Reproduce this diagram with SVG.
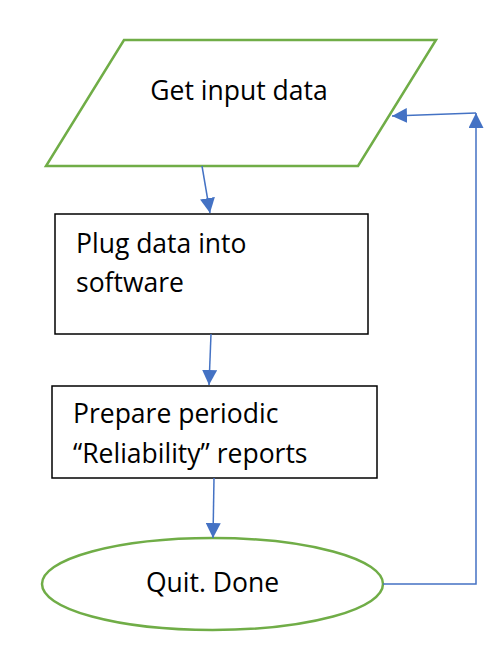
<svg xmlns="http://www.w3.org/2000/svg" width="504" height="660" viewBox="0 0 504 660">
<style>
.green{fill:#ffffff;stroke:#70AD47;stroke-width:2.5}
.box{fill:#ffffff;stroke:#000000;stroke-width:1.5}
.lbl{font-family:"Open Sans","Liberation Sans",sans-serif;font-size:26.5px;fill:#000000}
.con{fill:none;stroke:#4472C4;stroke-width:1.5}
</style>
<defs>
<marker id="ah" viewBox="0 0 16 16" refX="16" refY="8" markerWidth="15" markerHeight="15" markerUnits="userSpaceOnUse" orient="auto">
<path d="M0,0 L16,8 L0,16 Z" fill="#4472C4"/>
</marker>
</defs>
<rect width="504" height="660" fill="#ffffff"/>
<g id="node-input">
<polygon class="green" points="124,40 436,40 358,166 46,166"/>
<text class="lbl" x="239" y="100" text-anchor="middle">Get input data</text>
</g>
<g id="node-plug">
<rect class="box" x="55" y="214" width="313" height="120"/>
<text class="lbl" x="76" y="253">Plug data into</text>
<text class="lbl" x="76" y="292">software</text>
</g>
<g id="node-prepare">
<rect class="box" x="52" y="386" width="325" height="92"/>
<text class="lbl" x="73" y="423">Prepare periodic</text>
<text class="lbl" x="73" y="463">“Reliability” reports</text>
</g>
<g id="node-quit">
<ellipse class="green" cx="212.5" cy="584" rx="170.5" ry="46"/>
<text class="lbl" x="212.5" y="592" text-anchor="middle">Quit. Done</text>
</g>
<g id="connectors">
<line class="con" x1="202" y1="166" x2="210" y2="213" marker-end="url(#ah)"/>
<line class="con" x1="211" y1="334" x2="209" y2="385" marker-end="url(#ah)"/>
<line class="con" x1="214" y1="478" x2="213" y2="538" marker-end="url(#ah)"/>
<polyline class="con" points="383,584 476,584 476,113" marker-end="url(#ah)"/>
<line class="con" x1="476" y1="113" x2="392" y2="116" marker-end="url(#ah)"/>
</g>
</svg>
